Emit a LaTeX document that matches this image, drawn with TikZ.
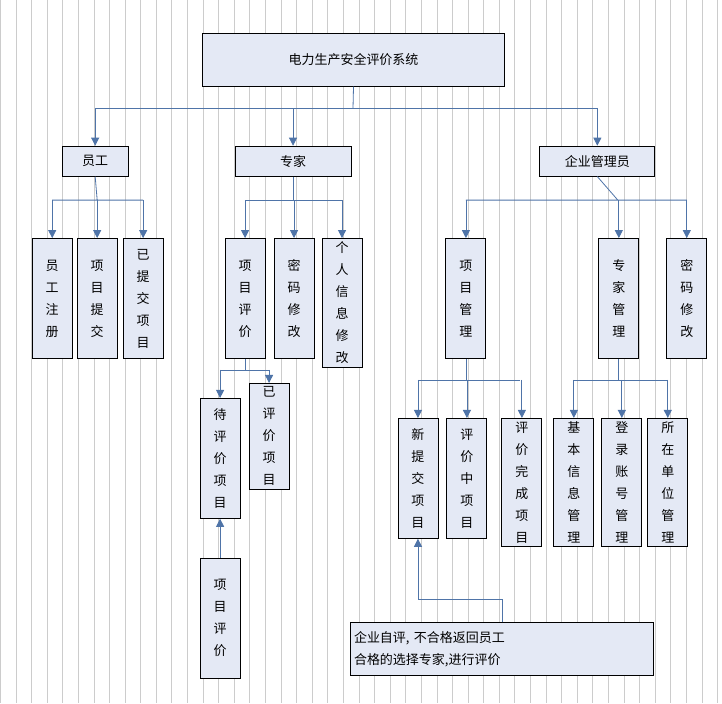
\documentclass[tikz,border=0pt]{standalone}
\usepackage{fontspec}
\newfontfamily\cjk{Noto Sans CJK SC}
\usetikzlibrary{arrows.meta}
\definecolor{boxfill}{HTML}{E4E9F5}
\definecolor{link}{HTML}{4F74A8}
\definecolor{gridc}{HTML}{CCCCCC}
\begin{document}
\begin{tikzpicture}[x=1pt,y=-1pt,
  box/.style={draw=black,line width=0.9pt,fill=boxfill,font=\cjk\fontsize{13}{15}\selectfont},
  vbox/.style={box,align=center,font=\cjk\fontsize{13}{22}\selectfont},
  ln/.style={draw=link,line width=0.8pt},
  arr/.style={ln,-{Triangle[width=8pt,length=8pt]}}]
\fill[white] (0,0) rectangle (722,703);
\draw[gridc,line width=0.5pt,step=15.6] (0,0) grid (722,703);
\useasboundingbox (0,0) rectangle (722,703);
% level 1 and 2
\node[box,minimum width=303,minimum height=53] (sys) at (353.5,59.5) {电力生产安全评价系统};
\node[box,minimum width=66,minimum height=30] (yg) at (95,161) {员工};
\node[box,minimum width=116,minimum height=30] (zj) at (293,161) {专家};
\node[box,minimum width=115,minimum height=30] (qy) at (597.5,161) {企业管理员};
\coordinate (b1) at (353,108);
\draw[ln] (sys.south) -- (b1);
\draw[ln] (95,108) -- (598,108);
\draw[arr] (yg.north |- b1) -- (yg.north);
\draw[arr] (zj.north |- b1) -- (zj.north);
\draw[arr] (qy.north |- b1) -- (qy.north);
% level 3
\foreach \n/\x/\t in {a1/52/员\\工\\注\\册, a2/97/项\\目\\提\\交, a3/143/已\\提\\交\\项\\目,
  b1/245/项\\目\\评\\价, b2/294/密\\码\\修\\改, b3/342/个\\人\\信\\息\\修\\改,
  c1/466/项\\目\\管\\理, c2/619/专\\家\\管\\理, c3/687/密\\码\\修\\改}
  \node[vbox,minimum width=40,minimum height=120,anchor=north] (\n) at (\x,238) {\t};
\draw[ln] (yg.south) -- (97,200) (52,200) -- (143,200);
\draw[ln] (zj.south) -- (293,200) (245,200) -- (342,200);
\draw[ln] (qy.south) -- (618,200) (466,200) -- (687,200);
\foreach \n in {a1,a2,a3,b1,b2,b3,c1,c2,c3}
  \draw[arr] (\n.north |- 0,200) -- (\n.north);
% level 4
\node[vbox,minimum width=40,minimum height=120,anchor=north] (d1) at (220,398) {待\\评\\价\\项\\目};
\node[vbox,minimum width=40,minimum height=105,anchor=north] (d2) at (269,383) {已\\评\\价\\项\\目};
\draw[ln] (b1.south) -- (245,370) (220,370) -- (269,370);
\draw[arr] (220,370) -- (d1.north);
\draw[arr] (269,370) -- (d2.north);
\node[vbox,minimum width=40,minimum height=120,anchor=north] (pj) at (220,558) {项\\目\\评\\价};
\draw[arr] (pj.north) -- (d1.south);
\foreach \n/\x/\t in {e1/418/新\\提\\交\\项\\目, e2/467/评\\价\\中\\项\\目, e3/522/评\\价\\完\\成\\项\\目,
  f1/574/基\\本\\信\\息\\管\\理, f2/622/登\\录\\账\\号\\管\\理, f3/668/所\\在\\单\\位\\管\\理}
  \node[vbox,minimum width=40,minimum height=120,anchor=north] (\n) at (\x,418) {\t};
\draw[ln] (c1.south) -- (466,380) (418,380) -- (520,380);
\draw[ln] (c2.south) -- (619,380) (574,380) -- (668,380);
\foreach \n in {e1,e2,e3,f1,f2,f3}
  \draw[arr] (\n.north |- 0,380) -- (\n.north);
% note
\node[box,minimum width=304,minimum height=53,align=left,text width=296,font=\cjk\fontsize{13}{22}\selectfont] (nt) at (502,649.5) {企业自评, 不合格返回员工\\合格的选择专家,进行评价};
\draw[arr] (nt.north) -- (502,600) -- (418,600) -- (e1.south);
\end{tikzpicture}
\end{document}
